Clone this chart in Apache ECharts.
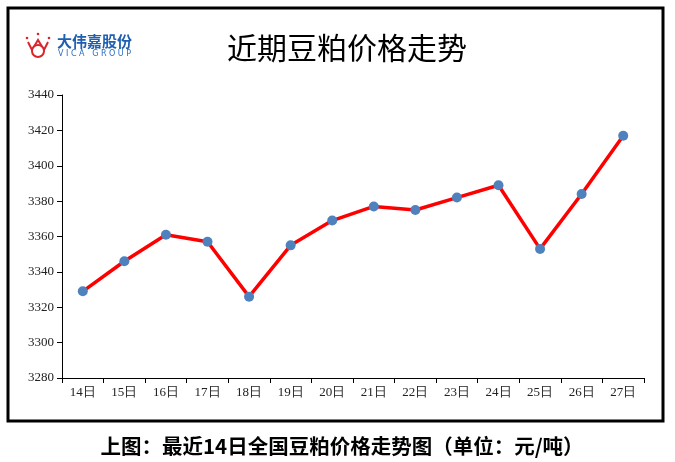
<!DOCTYPE html>
<html><head><meta charset="utf-8">
<script src="https://cdn.jsdelivr.net/npm/echarts@6/dist/echarts.min.js"></script>
<style>html,body{margin:0;padding:0;background:#fff}#c{width:675px;height:462px}</style>
</head><body><div id="c"></div>
<script>
const categories = ['14日','15日','16日','17日','18日','19日','20日','21日','22日','23日','24日','25日','26日','27日'];
const prices = [3329,3346,3361,3357,3326,3355,3369,3377,3375,3382,3389,3353,3384,3417];
const yTicks = [3280,3300,3320,3340,3360,3380,3400,3420,3440];
const titleText = '近期豆粕价格走势';
const captionText = '上图：最近14日全国豆粕价格走势图（单位：元/吨）';
const logoCn = '大伟嘉股份';
const logoEn = 'VICA GROUP';

const chart = echarts.init(document.getElementById('c'));
chart.setOption({
  animation: false,
  backgroundColor: '#fff',
  grid: {left: 62, right: 31, top: 95, bottom: 84},
  xAxis: {
    type: 'category', data: categories, boundaryGap: true,
    axisLine: {lineStyle: {color: '#000', width: 1}},
    axisTick: {show: true, length: 5, inside: false, lineStyle: {color: '#000'}},
    axisLabel: {color: '#222', fontSize: 13, fontFamily: 'Liberation Serif, serif', margin: 8}
  },
  yAxis: {
    type: 'value', min: yTicks[0], max: yTicks[yTicks.length-1], interval: 20,
    axisLine: {show: true, lineStyle: {color: '#000', width: 1}},
    axisTick: {show: true, length: 5, lineStyle: {color: '#000'}},
    splitLine: {show: false},
    axisLabel: {color: '#222', fontSize: 13, fontFamily: 'Liberation Serif, serif', margin: 8, formatter: v => String(v)}
  },
  series: [{
    type: 'line', data: prices,
    lineStyle: {color: '#ff0000', width: 3.5},
    symbol: 'circle', symbolSize: 10,
    itemStyle: {color: '#4f81bd'}
  }],
  graphic: [
    {type: 'rect', shape: {x: 8, y: 8, width: 655, height: 413}, style: {fill: 'none', stroke: '#000', lineWidth: 3}, z: 100},
    {type: 'text', x: 347, y: 48, style: {text: titleText, fill: '#000', font: 'normal 30px "Noto Sans CJK SC"', textAlign: 'center', textVerticalAlign: 'middle'}},
    {type: 'text', x: 342, y: 446, style: {text: captionText, fill: '#000', font: 'bold 20.5px "Noto Sans CJK SC"', textAlign: 'center', textVerticalAlign: 'middle'}},
    {type: 'text', x: 57, y: 41, style: {text: logoCn, fill: '#1f5fb0', font: 'bold 15px "Noto Sans CJK SC"', textAlign: 'left', textVerticalAlign: 'middle'}},
    {type: 'text', x: 58, y: 54, style: {text: logoEn.split('').join(' '), fill: '#2a6cc0', font: 'normal 8px "DejaVu Sans"', textAlign: 'left', textVerticalAlign: 'middle'}},
    {type: 'polyline', shape: {points: [[28,42],[32,50],[38,40],[44,50],[48,42]]}, style: {stroke: '#d9262b', lineWidth: 2, fill: 'none'}},
    {type: 'circle', shape: {cx: 38, cy: 51, r: 6}, style: {stroke: '#d9262b', lineWidth: 2, fill: '#fff'}},
    {type: 'circle', shape: {cx: 27, cy: 38, r: 1.3}, style: {fill: '#d9262b'}},
    {type: 'circle', shape: {cx: 38, cy: 34, r: 1.3}, style: {fill: '#d9262b'}},
    {type: 'circle', shape: {cx: 49, cy: 38, r: 1.3}, style: {fill: '#d9262b'}}
  ]
});
</script></body></html>
